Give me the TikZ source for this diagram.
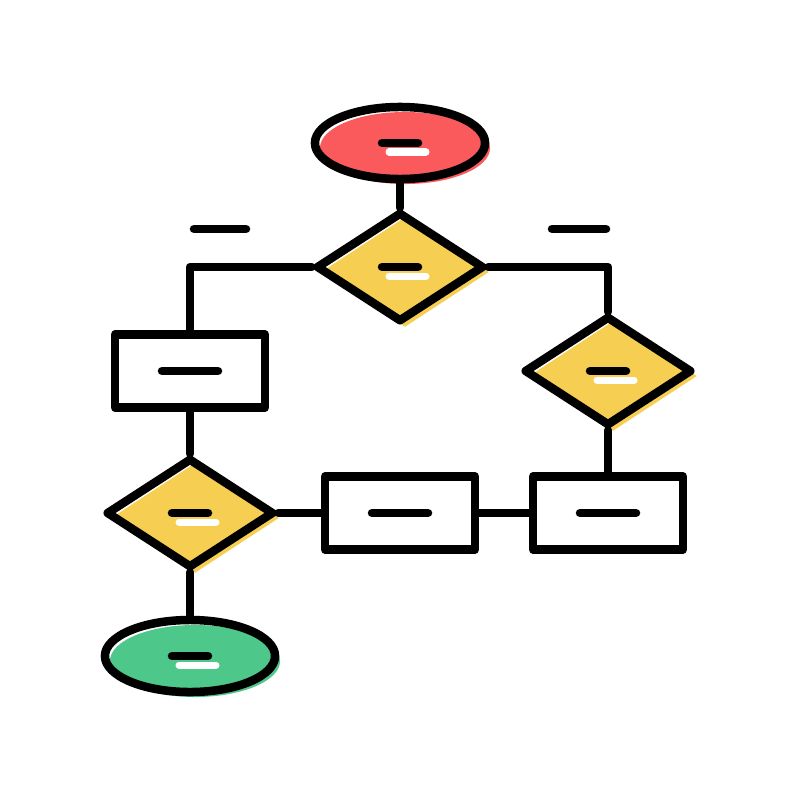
\documentclass[tikz,border=0pt]{standalone}
\usetikzlibrary{shapes.geometric}
\definecolor{startred}{RGB}{250,90,92}
\definecolor{condyellow}{RGB}{246,207,82}
\definecolor{endgreen}{RGB}{78,200,138}
\tikzset{
    line/.style={line width=0.085cm, line join=round, line cap=round},
    term/.style={ellipse, minimum width=1.70cm, minimum height=0.72cm, inner sep=0pt},
    cond/.style={diamond, minimum width=1.68cm, minimum height=1.10cm, inner sep=0pt},
    proc/.style={rectangle, minimum width=1.50cm, minimum height=0.73cm, inner sep=0pt},
    whitebar/.style={line width=0.07cm, line cap=round, white}
}
\begin{document}
\begin{tikzpicture}[x=0.01cm, y=-0.01cm]
        \useasboundingbox (0,0) rectangle (800,800);
        % coloured fills, set a little down and to the right
        \node[term, fill=startred] at (405,148) {};
        \node[term, fill=endgreen] at (195,661) {};
        \foreach \x/\y in {405/272, 613/376, 195/518} {
            \node[cond, fill=condyellow] at (\x,\y) {};
        }
        % outlines
        \node[term, draw, line] (start) at (400,143) {};
        \node[cond, draw, line] (q1) at (400,267) {};
        \node[cond, draw, line] (q2) at (608,371) {};
        \node[cond, draw, line] (q3) at (190,513) {};
        \node[proc, draw, line] (p1) at (190,371) {};
        \node[proc, draw, line] (p2) at (400,513) {};
        \node[proc, draw, line] (p3) at (608,513) {};
        \node[term, draw, line] (stop) at (190,656) {};
        % connectors
        \draw[line] (start) -- (q1);
        \draw[line] (q1.west) -| (p1.north);
        \draw[line] (q1.east) -| (q2.north);
        \draw[line] (p1) -- (q3);
        \draw[line] (q2) -- (p3);
        \draw[line] (q3) -- (p2);
        \draw[line] (p2) -- (p3);
        \draw[line] (q3) -- (stop);
        % branch labels
        \coordinate (yes) at (194,229);
        \coordinate (no) at (552,229);
        \draw[line] (yes) -- ++(52,0);
        \draw[line] (no) -- ++(54,0);
        % text bars
        \foreach \n in {start,q1,q2,q3,stop} {
            \draw[whitebar] ([shift={(-11,9)}]\n.center) -- ([shift={(26,9)}]\n.center);
            \draw[line] ([shift={(-18,0)}]\n.center) -- ([shift={(18,0)}]\n.center);
        }
        \foreach \n in {p1,p2,p3} {
            \draw[line] ([shift={(-28,0)}]\n.center) -- ([shift={(28,0)}]\n.center);
        }
\end{tikzpicture}
\end{document}
